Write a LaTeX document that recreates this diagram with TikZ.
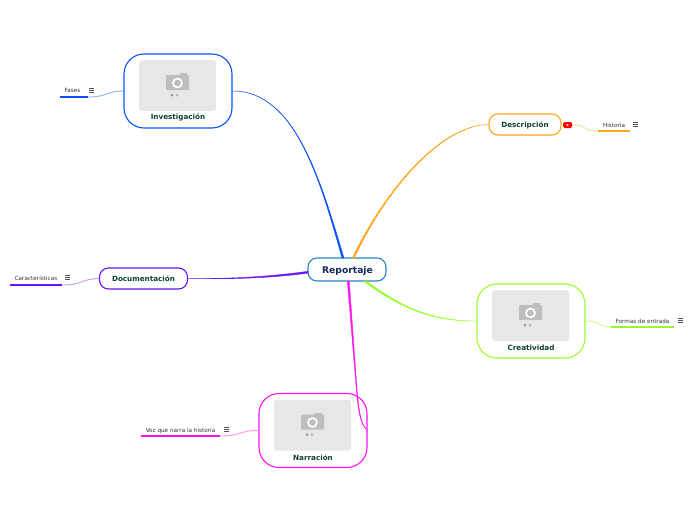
\documentclass[tikz,border=0pt]{standalone}
\usepackage{fontspec}
\setmainfont{DejaVu Sans}
\definecolor{cblue}{HTML}{0A50FF}
\definecolor{corange}{HTML}{FFA51E}
\definecolor{cpurple}{HTML}{6414FF}
\definecolor{cgreen}{HTML}{96FF28}
\definecolor{cmagenta}{HTML}{FF14F0}
\definecolor{lblue}{HTML}{8CAEFF}
\definecolor{lorange}{HTML}{FFD596}
\definecolor{lpurple}{HTML}{BE9CFF}
\definecolor{lgreen}{HTML}{C8FF8C}
\definecolor{lmagenta}{HTML}{FF8CF8}
\definecolor{titlegreen}{HTML}{0F4032}
\definecolor{rootnavy}{HTML}{16295C}
\definecolor{rootline}{HTML}{2585C0}
\definecolor{phgray}{HTML}{E6E7E8}
\definecolor{camgray}{HTML}{BDBEC0}
\definecolor{leaftext}{HTML}{333333}
\tikzset{
  x=1pt,y=-1pt,
  topic/.style={draw=#1,line width=1.1pt,fill=white,rounded corners=9pt,inner sep=0pt},
  photobox/.style={draw=#1,line width=1.1pt,fill=white,rounded corners=20pt,minimum width=108pt,minimum height=74pt,inner sep=0pt},
  toptext/.style={font=\fontsize{7.2}{9}\selectfont\bfseries,text=titlegreen,inner sep=0pt},
  leaftxt/.style={font=\fontsize{5.7}{7}\selectfont,text=leaftext,inner sep=0pt},
  thin link/.style={line width=.9pt,line cap=round},
  leafbar/.style={line width=1.9pt},
  taper/.style={draw=#1,fill=#1,line width=.4pt,line join=round},
}
\newcommand{\photoph}[3]{% name, x, y of left-top of placeholder
  \node[fill=phgray,rounded corners=3pt,minimum width=77pt,minimum height=51pt,inner sep=0pt,anchor=north west] (#1) at (#2,#3) {};
  \begin{scope}[shift={(#2,#3)}]
    \fill[camgray,rounded corners=.6pt] (27,15) rectangle (50,30);
    \fill[camgray] (41,13) rectangle (47.5,15.5);
    \fill[white] (38.5,23) circle (5.4);
    \fill[camgray] (38.5,23) circle (3.4);
    \fill[gray!80] (33,35) circle (1.5);
    \fill[gray!60] (38,35) circle (1.5);
    \fill[gray!12] (43,35) circle (1.5);
  \end{scope}
}
\newcommand{\menuicon}[2]{%
  \draw[leaftext!85,line width=.55pt] (#1-2.5,#2-2) -- (#1+2.5,#2-2) (#1-2.5,#2) -- (#1+2.5,#2) (#1-2.5,#2+2) -- (#1+2.5,#2+2);
}
\begin{document}
\begin{tikzpicture}
\useasboundingbox (0,0) rectangle (696,520);
% end coordinates of the tapered branches
\coordinate (ia) at (342,258);\coordinate (ib) at (344,258);
\coordinate (da) at (352.3,258);\coordinate (db) at (354.3,258);
\coordinate (ra) at (308,271.3);\coordinate (rb) at (308,273.1);
\coordinate (ca) at (365.8,280.7);\coordinate (cb) at (364.2,281.8);
\coordinate (na) at (347.3,281);\coordinate (nb) at (349.3,281);
% nodes
\node[topic=rootline,minimum width=78pt,minimum height=23pt] (rep) at (347,269.5) {};
\node[font=\fontsize{9.2}{11}\selectfont\bfseries,text=rootnavy,inner sep=0pt] (rept) at (347.5,270.5) {Reportaje};
\node[photobox=cblue] (inv) at (178,91) {};
\node[photobox=cgreen] (cre) at (531,321) {};
\node[photobox=cmagenta] (nar) at (313,430.5) {};
\node[topic=corange,minimum width=72pt,minimum height=21pt] (des) at (525,124.5) {};
\node[topic=cpurple,minimum width=88pt,minimum height=21pt] (doc) at (143.5,278.5) {};
\node[toptext] (dest) at (525,125.3) {Descripción};
\node[toptext] (doct) at (143.5,279) {Documentación};
\node[toptext] (invt) at (178,117.7) {Investigación};
\node[toptext] (cret) at (531,347.7) {Creatividad};
\node[toptext] (nart) at (313,457.5) {Narración};
\photoph{invp}{139}{60}
\photoph{crep}{492}{290}
\photoph{narp}{274}{399.5}
% main branches
\path[taper=cblue] (inv.east) .. controls (295,91) and (320,180) .. (ia) -- (ib) .. controls (320.6,180) and (295,90.6) .. (inv.east);
\path[taper=corange] (des.west) .. controls (440,125) and (385,190) .. (da) -- (db) .. controls (385.6,190.6) and (440.6,125.6) .. (des.west);
\path[taper=cpurple] (doc.east) .. controls (230,279) and (270,276.6) .. (ra) -- (rb) .. controls (270,278.2) and (230,279.4) .. (doc.east);
\path[taper=cgreen] (cre.west) .. controls (430,321) and (400,306) .. (ca) -- (cb) .. controls (399,306.6) and (430,321.6) .. (cre.west);
\path[taper=cmagenta] (nar.east) .. controls (360,425) and (358,410) .. (356,385) -- (na) -- (nb) -- (356.7,385) .. controls (358.7,410) and (360.6,424.6) .. (nar.east);
% leaves
\coordinate (fe) at (88,97);\coordinate (fl) at (60,97);
\coordinate (he) at (598,131);\coordinate (hl) at (630,131);
\coordinate (ke) at (62,285);\coordinate (kl) at (10,285);
\coordinate (ve) at (220,436);\coordinate (vl) at (141,436);
\coordinate (ee) at (611,327);\coordinate (el) at (674,327);
\node[fill=red,rounded corners=1.5pt,minimum width=9pt,minimum height=6pt,inner sep=0pt] (yt) at (567.5,125) {};
\fill[white] (566.5,123.8) -- (569,125) -- (566.5,126.2) -- cycle;
\draw[lblue,thin link] (inv.west) .. controls (106,91) and (108,97) .. (fe);
\draw[lorange,thin link] (yt.east) .. controls (588,125) and (582,131) .. (he);
\draw[lpurple,thin link] (doc.west) .. controls (80,279) and (84,285) .. (ke);
\draw[lmagenta,thin link] (nar.west) .. controls (240,430) and (242,436) .. (ve);
\draw[lgreen,thin link] (cre.east) .. controls (603,321) and (596,327) .. (ee);
\draw[cblue,leafbar] (fe) -- (fl);
\draw[corange,leafbar] (he) -- (hl);
\draw[cpurple,leafbar] (ke) -- (kl);
\draw[cmagenta,leafbar] (ve) -- (vl);
\draw[cgreen,leafbar] (ee) -- (el);
\node[leaftxt] (t1) at (72.5,90.5) {Fases};
\node[leaftxt] (t2) at (614,125.5) {Historia};
\node[leaftxt] (t3) at (36,278.5) {Características};
\node[leaftxt] (t4) at (180.5,430.5) {Voz que narra la historia};
\node[leaftxt] (t5) at (642.5,321.5) {Formas de entrada};
\menuicon{91.5}{90}
\menuicon{635.5}{124.5}
\menuicon{67.5}{277.5}
\menuicon{226.5}{429.5}
\menuicon{680.5}{320.5}
\end{tikzpicture}
\end{document}
